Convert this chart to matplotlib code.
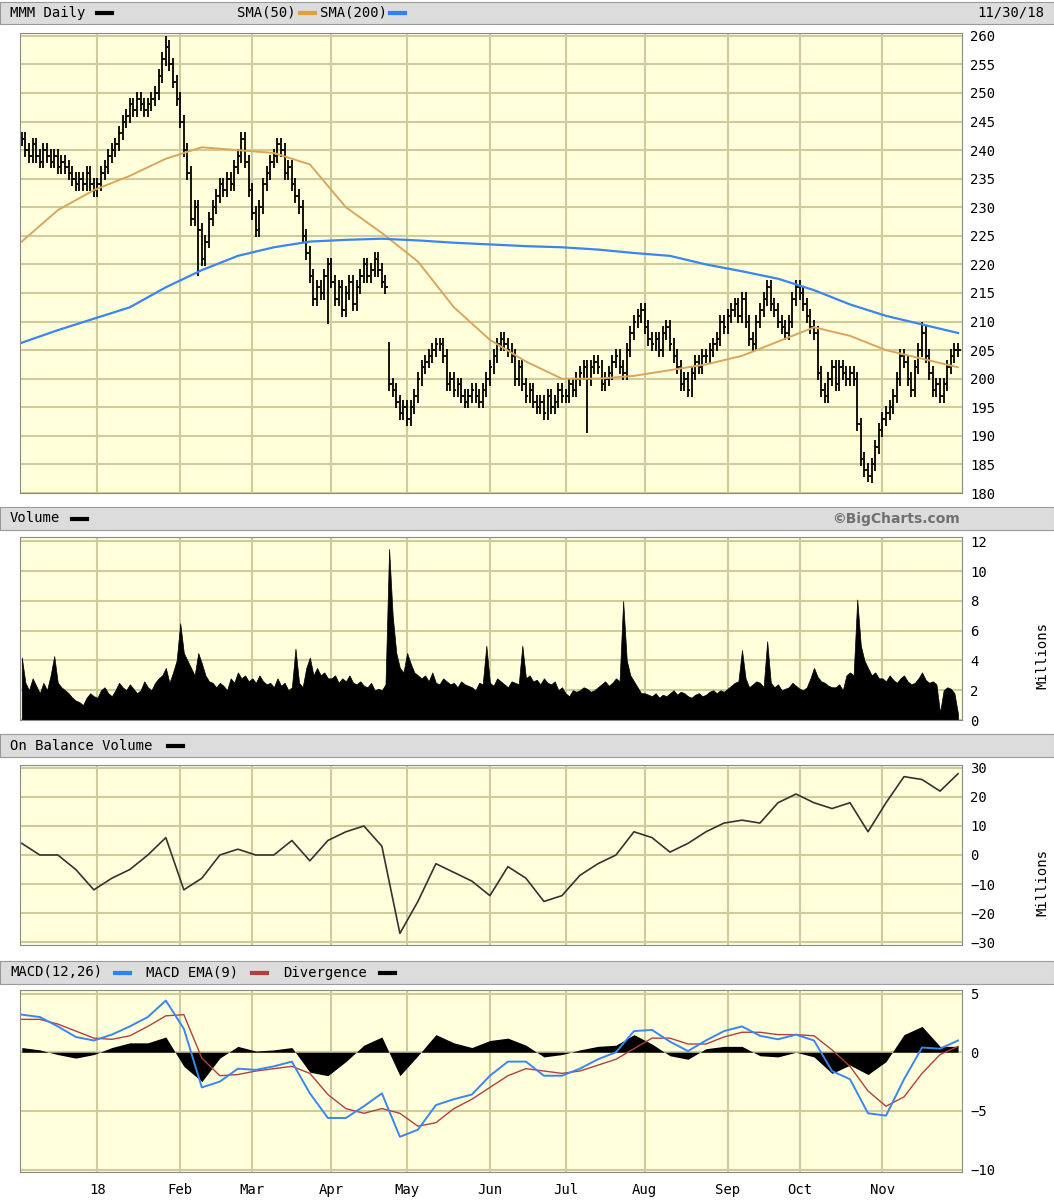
import numpy as np
import pandas as pd
import matplotlib
matplotlib.use("Agg")
import matplotlib.pyplot as plt

# ---------------- data ----------------
close_dec = [242,240,239,241,239,238,240,239,238,239,237,238,237,236,235,234,235,234,236,234,233]
close_jan = [234,236,237,239,240,241,243,245,246,248,247,249,248,247,248,249,250,253,256,258,255,252,249]
close_feb = [245,240,236,228,230,226,221,224,228,230,232,234,233,235,234,237,239,242,238,233]
close_mar = [229,226,230,234,236,238,239,241,240,236,237,234,232,230,225,222,218,214,216,215,218,220]
close_apr = [217,214,216,212,215,217,213,216,218,220,218,219,221,219,217,216,199,198,196,194,195]
close_may = [193,195,197,200,202,203,204,205,206,206,204,199,200,198,199,197,196,197,198,197,196,198,200]
close_jun = [202,204,206,207,206,205,204,200,202,199,197,198,196,195,196,194,197,195,196,198,197]
close_jul = [197,199,198,200,201,202,200,202,203,202,199,200,201,203,204,202,201,205,208,210,211,212]
close_aug = [209,207,206,207,205,208,209,206,204,202,199,200,198,201,203,202,204,204,205,206,207,210,209]
close_sep = [211,212,213,211,214,210,207,206,210,212,214,216,213,212,210,209,208,210,214,216]
close_oct = [215,213,211,209,208,201,198,197,200,202,199,202,201,200,201,200,192,186,184,183,185,188,191]
close_nov = [193,194,195,197,200,204,203,200,198,202,205,208,204,201,198,199,197,199,202,204,205,205]

vol_dec = [4.2,2.5,2.0,2.8,2.3,1.8,2.5,2.0,3.0,4.3,2.5,2.2,2.0,1.8,1.5,1.3,1.2,1.0,1.5,1.8,1.6]
vol_jan = [1.5,2.0,2.2,1.8,1.6,2.0,2.5,2.2,2.0,2.4,2.1,1.8,2.0,2.6,2.2,2.0,2.5,2.8,3.0,3.5,2.5,3.2,4.0]
vol_feb = [6.5,4.5,4.0,3.5,3.0,4.5,3.8,3.0,2.6,2.5,2.2,2.5,2.3,2.0,2.8,2.5,3.2,2.8,3.0,2.6]
vol_mar = [2.8,2.5,3.0,2.6,2.4,2.5,2.2,2.8,2.3,2.5,2.0,2.2,4.8,2.5,2.2,3.5,4.2,3.0,3.5,3.0,3.2,2.8]
vol_apr = [2.8,3.0,2.5,2.8,2.6,3.0,2.5,2.4,2.6,2.3,2.2,2.5,2.0,2.1,2.0,2.4,11.5,7.0,4.5,3.5,3.2]
vol_may = [4.5,3.8,3.2,3.0,2.8,3.0,2.6,3.2,2.5,2.4,2.8,2.6,2.4,2.5,2.2,2.6,2.4,2.3,2.2,2.0,2.5,2.4,5.0]
vol_jun = [2.5,2.3,2.8,2.6,2.4,2.2,2.6,2.5,2.4,5.0,2.8,3.0,2.6,2.7,2.4,2.8,2.5,2.4,2.6,2.0,2.2]
vol_jul = [1.8,1.6,2.0,1.9,2.0,2.2,2.1,1.9,2.0,2.2,2.4,2.6,2.3,2.5,2.8,2.6,8.0,4.0,3.0,2.6,2.2,1.8]
vol_aug = [1.8,1.7,1.6,1.8,1.5,1.7,1.6,1.8,2.0,1.7,1.9,1.8,1.6,1.5,1.7,1.8,1.6,1.7,1.9,2.0,1.8,2.0,1.9]
vol_sep = [2.1,2.3,2.5,2.6,4.7,2.8,2.2,2.4,2.6,2.5,2.2,5.3,2.5,2.2,2.4,2.0,2.1,2.2,2.5,2.3]
vol_oct = [2.1,2.0,2.2,2.8,3.5,2.9,2.6,2.5,2.3,2.2,2.2,2.4,2.0,3.0,3.2,3.0,8.1,5.0,4.0,3.5,3.0,3.2,2.8]
vol_nov = [2.8,2.6,3.0,2.7,2.5,2.8,3.0,2.6,2.4,2.5,2.8,3.2,2.7,2.5,2.6,2.4,0.5,2.0,2.2,2.1,1.8,0.4]

# intraday extremes on event days (business-day offset -> price)
low_events = {49: 218.0, 85: 209.5, 157: 190.5, 235: 182.0}
high_events = {40: 260.0, 102: 206.5, 250: 210.0}

# moving averages sampled every 10 business days
sma50 = [224,229.5,233,235.5,238.5,240.5,240,239.5,237.5,230,225.5,220.5,212.5,206.8,203,200,200,200.5,201.5,202.5,204,206.5,209,207.5,205,203.5,202]
sma200 = [206.3,208.5,210.5,212.5,216,219,221.5,223,224,224.3,224.5,224.2,223.8,223.5,223.2,223,222.6,222,221.5,220,218.8,217.5,215.5,213,211,209.5,208]

# OBV (millions) and MACD sampled every 5 business days
obv = [4,0,0,-5,-12,-8,-5,0,6,-12,-8,0,2,0,0,5,-2,5,8,10,3,-27,-16,-3,-6,-9,-14,-4,-8,-16,-14,-7,-3,0,8,6,1,4,8,11,12,11,18,21,18,16,18,8,18,27,26,22,28]
macd = [3.2,3.0,2.2,1.3,1.0,1.5,2.2,3.0,4.4,2.0,-3.0,-2.5,-1.4,-1.5,-1.2,-0.8,-3.5,-5.6,-5.6,-4.6,-3.5,-7.2,-6.6,-4.5,-4.0,-3.6,-2.0,-0.8,-0.8,-2.0,-2.0,-1.4,-0.6,0.0,1.8,1.9,0.9,0.1,1.0,1.8,2.2,1.4,1.1,1.5,1.0,-1.6,-2.3,-5.2,-5.4,-2.3,0.4,0.3,1.0]
macd_sig = [2.8,2.8,2.4,1.8,1.2,1.1,1.4,2.2,3.1,3.2,-0.5,-2.0,-1.9,-1.6,-1.4,-1.2,-1.8,-3.6,-4.8,-5.2,-4.8,-5.2,-6.3,-6.0,-4.8,-4.0,-3.0,-2.0,-1.4,-1.6,-1.8,-1.6,-1.1,-0.6,0.3,1.2,1.2,0.7,0.7,1.3,1.7,1.7,1.5,1.5,1.4,0.2,-1.2,-3.3,-4.6,-3.8,-1.8,-0.2,0.5]

month_labels = ["18","Feb","Mar","Apr","May","Jun","Jul","Aug","Sep","Oct","Nov"]

# ---------------- prep ----------------
close = np.array(close_dec+close_jan+close_feb+close_mar+close_apr+close_may+close_jun+close_jul+close_aug+close_sep+close_oct+close_nov, float)
vol = np.array(vol_dec+vol_jan+vol_feb+vol_mar+vol_apr+vol_may+vol_jun+vol_jul+vol_aug+vol_sep+vol_oct+vol_nov, float)
n = len(close)
dates = pd.bdate_range(end="2018-11-30", periods=n)
x = np.arange(n)
prev = np.concatenate([[close[0]], close[:-1]])
hi = np.maximum(close, prev) + 1.2
lo = np.minimum(close, prev) - 1.2
for k, v in low_events.items():
    if k < n: lo[k] = v
for k, v in high_events.items():
    if k < n: hi[k] = v

mstarts = [i for i in range(1, n) if dates[i].month != dates[i-1].month]

W, H = 1054, 1200
fig = plt.figure(figsize=(W/100, H/100), dpi=100)
fig.patch.set_facecolor("white")
BG = "#ffffdc"
GRID = "#cdcc9a"
MONO = "DejaVu Sans Mono"

def ax_px(x0, y0, x1, y1):
    return fig.add_axes([x0/W, 1-y1/H, (x1-x0)/W, (y1-y0)/H])

def header(y0, y1):
    a = ax_px(0, y0, W, y1)
    a.set_xlim(0, W); a.set_ylim(0, 1)
    a.set_facecolor("#dcdcdc")
    a.set_xticks([]); a.set_yticks([])
    for s in a.spines.values():
        s.set_color("#9a9a9a")
    return a

def style(a, ylim, ticks):
    a.set_facecolor(BG)
    a.set_xlim(-0.5, n - 0.5 + 0.6)
    a.set_ylim(*ylim)
    a.set_xticks(mstarts)
    a.set_xticklabels([])
    a.tick_params(axis="x", length=0)
    a.yaxis.tick_right()
    a.set_yticks(ticks)
    a.tick_params(axis="y", length=0, labelsize=10, pad=6)
    for t in a.get_yticklabels():
        t.set_family(MONO)
    a.grid(True, color=GRID, lw=1.5)
    a.set_axisbelow(True)
    for s in a.spines.values():
        s.set_color("#8a8a8a")

# header strips
h = header(2, 24)
h.text(10, 0.5, "MMM Daily", family=MONO, fontsize=10, va="center")
h.plot([97, 112], [0.5, 0.5], color="black", lw=3)
h.text(237, 0.5, "SMA(50)", family=MONO, fontsize=10, va="center")
h.plot([300, 315], [0.5, 0.5], color="#e0a040", lw=3)
h.text(320, 0.5, "SMA(200)", family=MONO, fontsize=10, va="center")
h.plot([390, 405], [0.5, 0.5], color="#2f7fff", lw=3)
h.text(1044, 0.5, "11/30/18", family=MONO, fontsize=10, va="center", ha="right")

h = header(507, 530)
h.text(10, 0.5, "Volume", family=MONO, fontsize=10, va="center")
h.plot([72, 87], [0.5, 0.5], color="black", lw=3)
h.text(960, 0.5, "©BigCharts.com", fontsize=10, va="center", ha="right", weight="bold", color="#707070")

h = header(734, 757)
h.text(10, 0.5, "On Balance Volume", family=MONO, fontsize=10, va="center")
h.plot([168, 183], [0.5, 0.5], color="black", lw=3)

h = header(961, 984)
h.text(10, 0.5, "MACD(12,26)", family=MONO, fontsize=10, va="center")
h.plot([115, 130], [0.5, 0.5], color="#2f7fff", lw=3)
h.text(146, 0.5, "MACD EMA(9)", family=MONO, fontsize=10, va="center")
h.plot([252, 267], [0.5, 0.5], color="#b04040", lw=3)
h.text(283, 0.5, "Divergence", family=MONO, fontsize=10, va="center")
h.plot([380, 395], [0.5, 0.5], color="black", lw=3)

# price panel
ap = ax_px(20, 33, 962, 493)
style(ap, (180, 260.5), np.arange(180, 261, 5))
ap.vlines(x, lo, hi, color="black", lw=1.3)
ap.hlines(close, x, x + 0.7, color="black", lw=1.3)
sx = np.minimum(np.arange(len(sma50)) * 10, n - 1)
ap.plot(sx, sma50, color="#dba55a", lw=1.4)
ap.plot(sx, sma200, color="#3a86f0", lw=1.6)

# volume
av = ax_px(20, 537, 962, 720)
style(av, (0, 12.3), np.arange(0, 13, 2))
av.fill_between(x, vol, 0, color="black", lw=0.5)
av.text(1.085, 0.35, "Millions", transform=av.transAxes, rotation=90, family=MONO, fontsize=10, va="center", ha="center")

# OBV
ao = ax_px(20, 765, 962, 945)
style(ao, (-31, 31), np.arange(-30, 31, 10))
ox = np.minimum(np.arange(len(obv)) * 5, n - 1)
ao.plot(ox, obv, color="#333333", lw=1.2)
ao.text(1.085, 0.35, "Millions", transform=ao.transAxes, rotation=90, family=MONO, fontsize=10, va="center", ha="center")

# MACD
am = ax_px(20, 990, 962, 1172)
style(am, (-10.2, 5.3), [-10, -5, 0, 5])
mx = np.minimum(np.arange(len(macd)) * 5, n - 1)
div = np.array(macd) - np.array(macd_sig)
am.fill_between(mx, div, 0, color="black", lw=0)
am.plot(mx, macd_sig, color="#b04040", lw=1.0)
am.plot(mx, macd, color="#3a86f0", lw=1.4)
am.set_xticklabels(month_labels, family=MONO, fontsize=10)
am.tick_params(axis="x", pad=8)

fig.savefig("out.png", dpi=100, facecolor="white")
